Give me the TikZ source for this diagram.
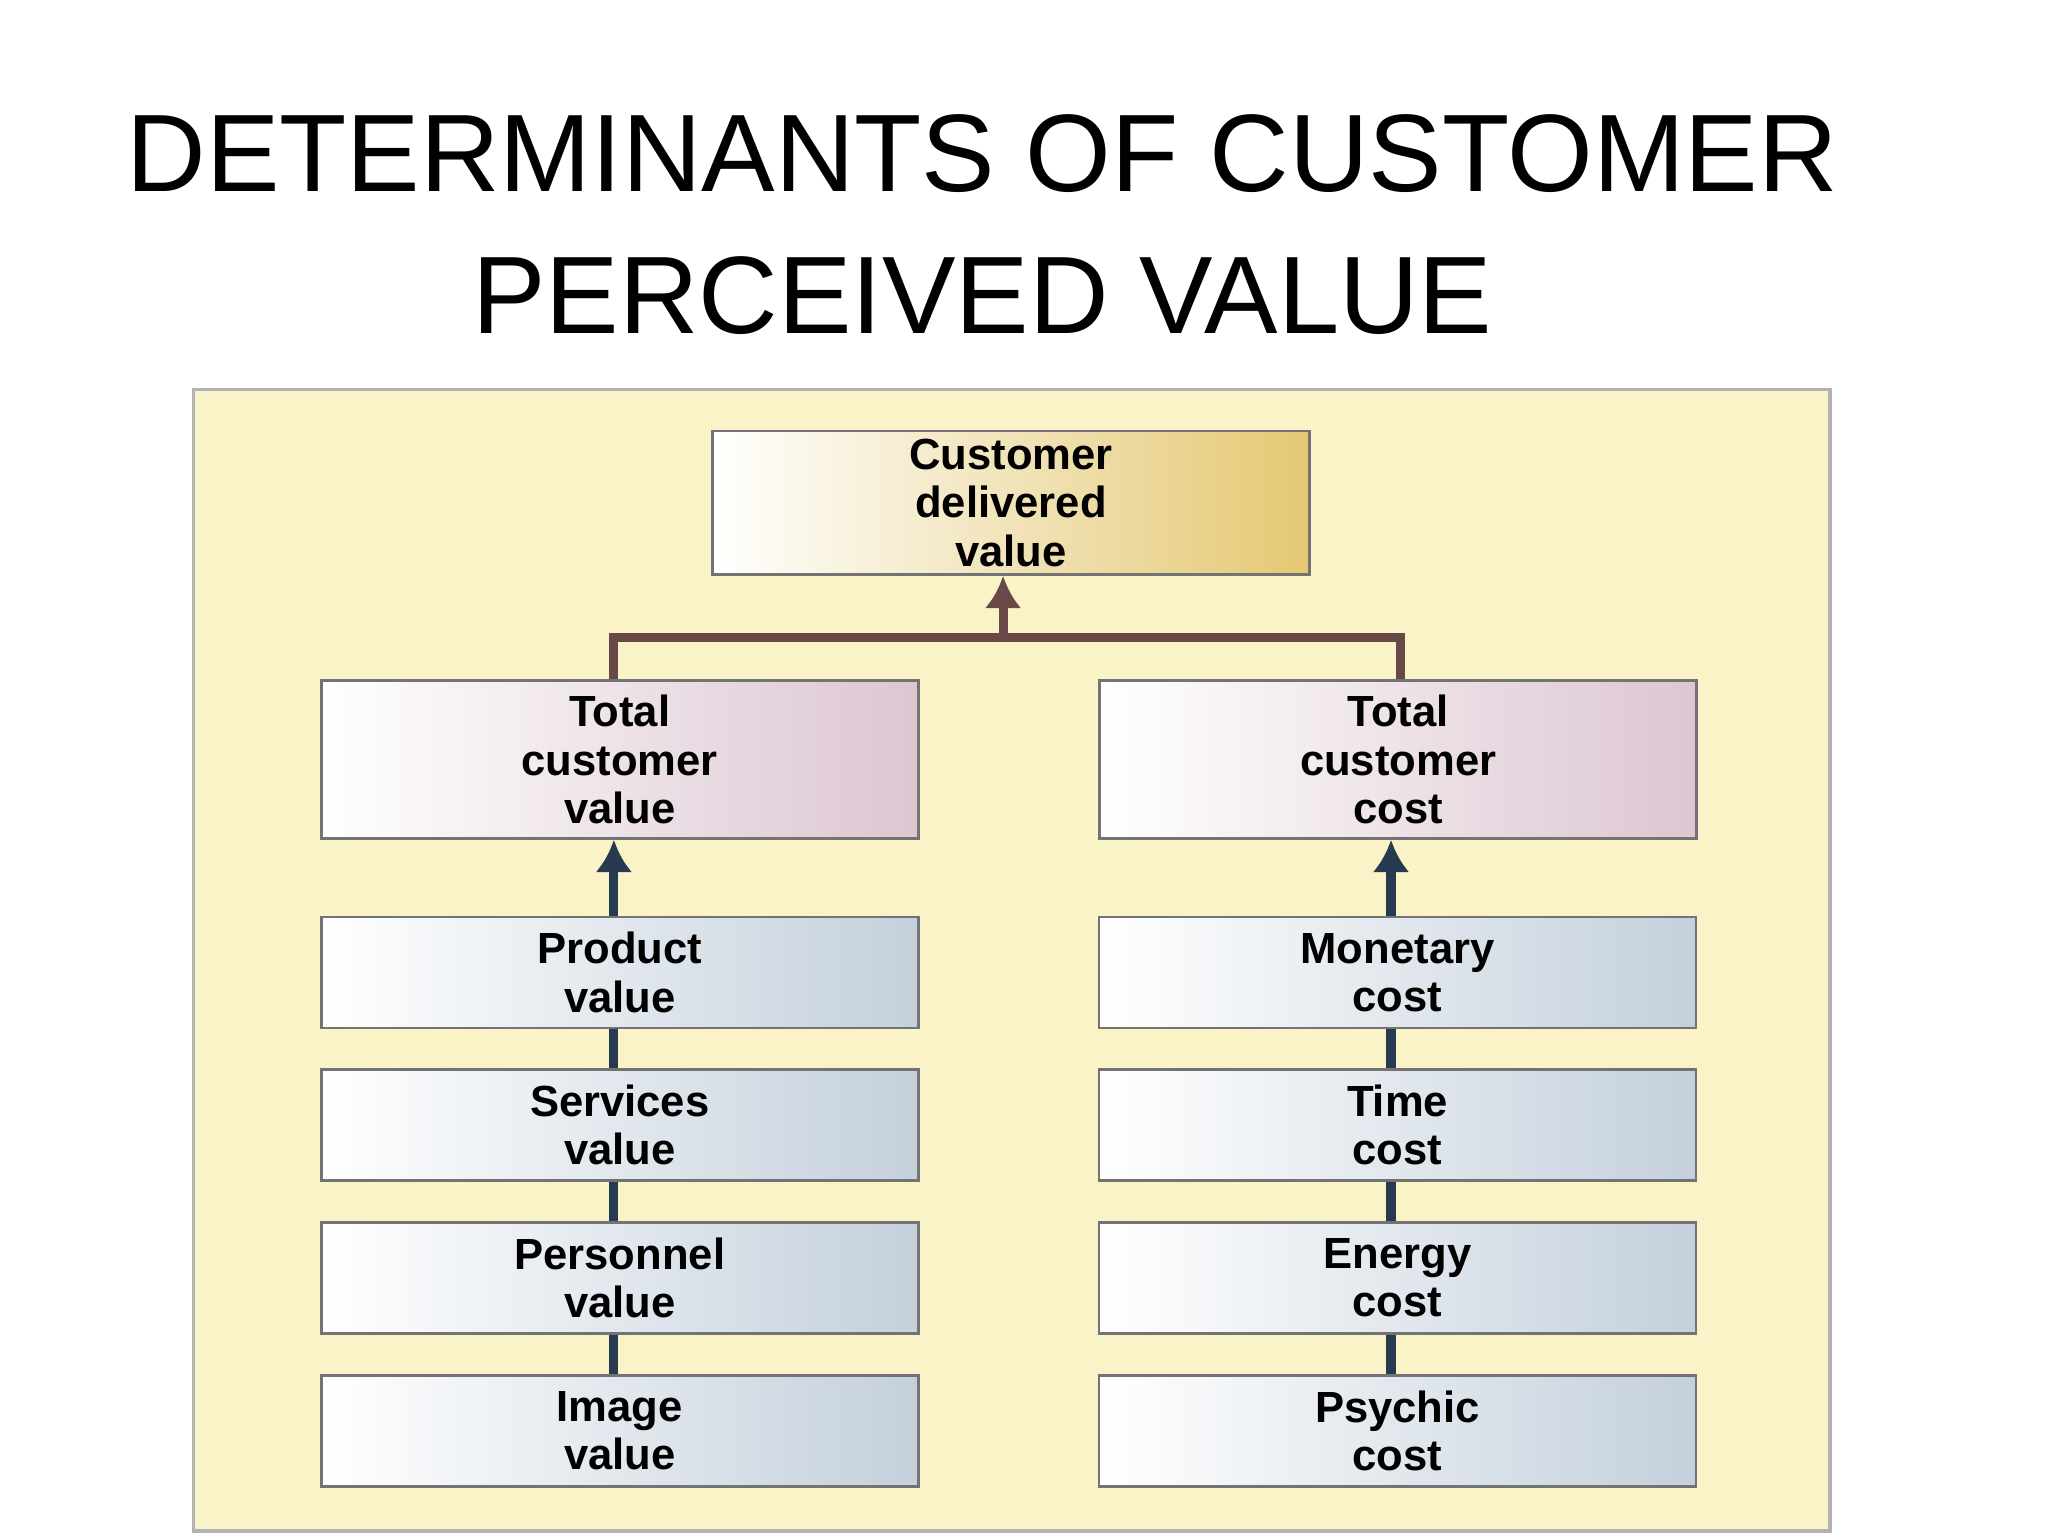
\documentclass[tikz,border=0pt]{standalone}
\usetikzlibrary{arrows.meta}
\usepackage{fontspec}
\setmainfont{Liberation Sans}
\begin{document}
\begin{tikzpicture}[x=0.02cm,y=-0.02cm,
  box/.style={draw=black!55,line width=1.2pt,minimum width=457*0.02cm,align=center,font=\fontsize{19}{21}\selectfont\bfseries,inner sep=0pt},
  topbox/.style={box,left color=white,right color=gold,minimum height=110*0.02cm},
  midbox/.style={box,left color=white,right color=pinkish,minimum height=121*0.02cm},
  smallbox/.style={box,left color=white,right color=bluish,minimum height=85*0.02cm},
  brownline/.style={draw=linkbrown,line width=4pt},
  blueline/.style={draw=linkblue,line width=4pt},
  ]
\definecolor{gold}{RGB}{228,200,115}
\definecolor{pinkish}{RGB}{220,198,210}
\definecolor{bluish}{RGB}{196,208,220}
\definecolor{linkbrown}{RGB}{105,72,72}
\definecolor{linkblue}{RGB}{38,58,80}
\definecolor{panel}{RGB}{250,243,200}
\useasboundingbox (0,0) rectangle (1568,1176);
\fill[white] (0,0) rectangle (1568,1176);
\node[font=\fontsize{48}{62}\selectfont,align=center] (title) at (752,172) {DETERMINANTS OF CUSTOMER\\PERCEIVED VALUE};
\draw[draw=black!30,fill=panel,line width=1.5pt] (148,298) rectangle (1401,1172);
\node[topbox] (cdv) at (774,385) {Customer\\delivered\\value};
\node[midbox] (tcv) at (474.5,581.5) {Total\\customer\\value};
\node[midbox] (tcc) at (1070.5,581.5) {Total\\customer\\cost};
\foreach \n/\t [count=\i from 0] in {pv/Product\\value,sv/Services\\value,perv/Personnel\\value,iv/Image\\value}
  \node[smallbox] (\n) at (474.5,744.5+117*\i) {\t};
\foreach \n/\t [count=\i from 0] in {mc/Monetary\\cost,tc/Time\\cost,ec/Energy\\cost,pc/Psychic\\cost}
  \node[smallbox] (\n) at (1070,744.5+117*\i) {\t};
\coordinate (j) at (768,488);
\draw[brownline] (tcv.north -| 470,0) |- (j) -| (tcc.north -| 1072,0);
\draw[brownline,-{Latex[length=14pt,width=16pt]}] (j) -- (cdv.south -| j);
\draw[blueline,-{Latex[length=14pt,width=16pt]}] (pv.north -| 470,0) -- (tcv.south -| 470,0);
\draw[blueline,-{Latex[length=14pt,width=16pt]}] (mc.north -| 1065,0) -- (tcc.south -| 1065,0);
\draw[blueline] (pv.south -| 470,0) -- (sv.north -| 470,0) (sv.south -| 470,0) -- (perv.north -| 470,0) (perv.south -| 470,0) -- (iv.north -| 470,0);
\draw[blueline] (mc.south -| 1065,0) -- (tc.north -| 1065,0) (tc.south -| 1065,0) -- (ec.north -| 1065,0) (ec.south -| 1065,0) -- (pc.north -| 1065,0);
\end{tikzpicture}
\end{document}
